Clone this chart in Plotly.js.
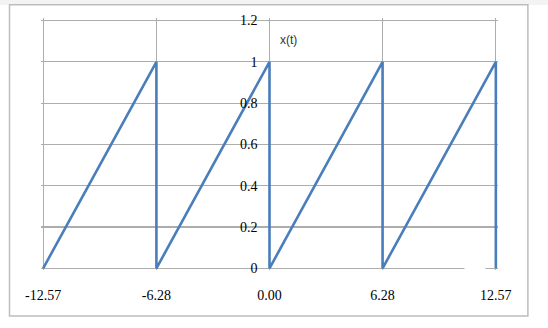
<!DOCTYPE html>
<html>
<head>
<meta charset="utf-8">
<script src="https://cdn.plot.ly/plotly-3.0.1.min.js"></script>
<style>html,body{margin:0;padding:0;background:#fff;}#chart{width:548px;height:328px;}</style>
</head>
<body>
<div id="chart"></div>
<script>
// Sawtooth x(t), period 2*pi
var tValues = [-12.57, -6.28, -6.28, 0.00, 0.00, 6.28, 6.28, 12.57, 12.57];
var xValues = [0, 1, 0, 1, 0, 1, 0, 1, 0];
var xTickVals = [-12.57, -6.28, 0, 6.28, 12.57];
var xTickText = ['-12.57', '-6.28', '0.00', '6.28', '12.57'];
var yTickVals = [0, 0.2, 0.4, 0.6, 0.8, 1, 1.2];
var yTickText = ['0', '0.2', '0.4', '0.6', '0.8', '1', '1.2'];

var trace = {
  x: tValues, y: xValues, type: 'scatter', mode: 'lines',
  line: {color: '#4a7ebb', width: 2.6}, hoverinfo: 'skip'
};

var numFont = {family: 'Liberation Serif, Times New Roman, serif', size: 14, color: '#000'};

var layout = {
  width: 548, height: 328,
  margin: {l: 40.54, r: 49.94, t: 18.2, b: 58},
  paper_bgcolor: '#fff', plot_bgcolor: '#fff',
  showlegend: false,
  xaxis: {
    range: [-12.69, 12.69], tickmode: 'array', tickvals: xTickVals, ticktext: xTickText,
    showgrid: true, gridcolor: '#adadad', gridwidth: 1.2, zeroline: false, showline: false,
    ticks: '', ticklabelstandoff: 15, tickfont: numFont, fixedrange: true
  },
  yaxis: {
    range: [-0.008, 1.212], tickmode: 'array', tickvals: yTickVals, ticktext: yTickText,
    showgrid: true, gridcolor: '#adadad', gridwidth: 1.2, zeroline: false, showline: false,
    anchor: 'free', position: 0.5, side: 'left',
    ticks: '', ticklabelstandoff: 12, tickfont: numFont, fixedrange: true
  },
  shapes: [
    {type: 'rect', xref: 'paper', yref: 'paper', x0: -0.2, x1: 1.2, y0: 1.052, y1: 1.2,
     fillcolor: '#f3f3f3', line: {width: 0}, layer: 'below'},
    {type: 'rect', xref: 'paper', yref: 'paper', x0: -0.0689, x1: 1.0654, y0: -0.1827, y1: 1.0524,
     fillcolor: 'rgba(0,0,0,0)', line: {color: '#bdbdbd', width: 1.5}}
  ],
  annotations: [
    {x: 0, y: 1.107, xref: 'x', yref: 'y', xshift: 8, xanchor: 'left', yanchor: 'middle',
     text: 'x(t)', showarrow: false, font: {family: 'Liberation Sans, Arial, sans-serif', size: 12, color: '#333'}},
    {x: 9.93, y: -0.105, xref: 'x', yref: 'y', xanchor: 'center', yanchor: 'middle',
     text: 't', showarrow: false, font: {family: 'Liberation Sans, Arial, sans-serif', size: 18, color: '#000'}},
    {x: 11.41, y: 0, xref: 'x', yref: 'y', xanchor: 'center', yanchor: 'middle',
     text: ' ', showarrow: false, bgcolor: '#fff', width: 20, height: 4, borderpad: 0,
     font: {size: 2}}
  ]
};

Plotly.newPlot('chart', [trace], layout, {displayModeBar: false, staticPlot: true});
</script>
</body>
</html>
